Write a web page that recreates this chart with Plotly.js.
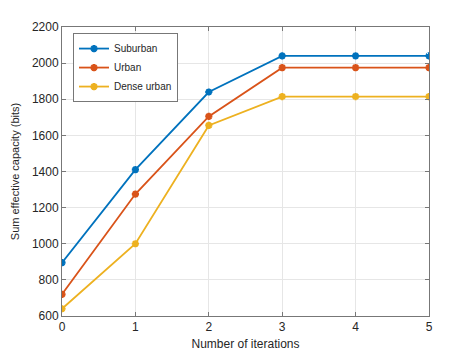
<!DOCTYPE html>
<html>
<head>
<meta charset="utf-8">
<script src="https://cdn.plot.ly/plotly-3.0.1.min.js"></script>
<style>html,body{margin:0;padding:0;background:#fff;}#chart{width:474px;height:355px;}</style>
</head>
<body>
<div id="chart"></div>
<script>
const iterations = [0, 1, 2, 3, 4, 5];
const suburban = [895, 1410, 1840, 2040, 2040, 2040];
const urban = [720, 1275, 1705, 1975, 1975, 1975];
const denseUrban = [640, 1000, 1655, 1815, 1815, 1815];
const seriesNames = ['Suburban', 'Urban', 'Dense urban'];
const colors = ['#0072BD', '#D95319', '#EDB120'];
const yTicks = [600, 800, 1000, 1200, 1400, 1600, 1800, 2000, 2200];

const data = [suburban, urban, denseUrban].map((ys, i) => ({
  x: iterations, y: ys, name: seriesNames[i], type: 'scatter', mode: 'lines+markers',
  line: {color: colors[i], width: 1.8},
  marker: {symbol: 'asterisk-open', size: 6, color: colors[i], line: {color: colors[i], width: 2.2}}
}));

const font = 'Liberation Sans, Arial, sans-serif';
const axisCommon = {
  showline: true, mirror: 'ticks', linecolor: '#777', linewidth: 1,
  ticks: 'inside', ticklen: 4, tickcolor: '#777',
  showgrid: true, gridcolor: '#e6e6e6', zeroline: false,
  tickfont: {family: font, size: 12, color: '#262626'}
};

const layout = {
  width: 474, height: 355,
  margin: {l: 62, r: 45, t: 27, b: 39},
  paper_bgcolor: '#fff', plot_bgcolor: '#fff',
  showlegend: true,
  legend: {x: 0.03, y: 0.979, xanchor: 'left', yanchor: 'top', bgcolor: '#fff',
    bordercolor: '#777', borderwidth: 1, font: {family: font, size: 10, color: '#262626'},
    tracegroupgap: 0, itemwidth: 30},
  xaxis: Object.assign({}, axisCommon, {range: [0, 5], tickvals: iterations,
    title: {text: 'Number of iterations', standoff: 6, font: {family: font, size: 12, color: '#262626'}}}),
  yaxis: Object.assign({}, axisCommon, {range: [600, 2200], tickvals: yTicks,
    title: {text: 'Sum effective capacity (bits)', standoff: 10, font: {family: font, size: 11, color: '#262626'}}})
};

Plotly.newPlot('chart', data, layout, {displayModeBar: false, staticPlot: true});
</script>
</body>
</html>
